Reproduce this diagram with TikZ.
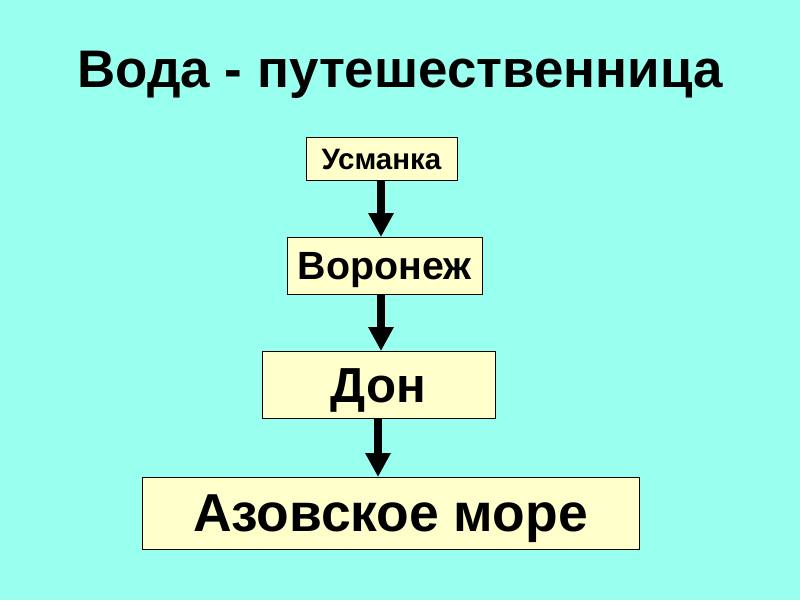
\documentclass[tikz,border=0pt]{standalone}
\usepackage{fontspec}
\setmainfont{Liberation Sans}
\usetikzlibrary{arrows.meta}
\definecolor{sea}{HTML}{99FFEE}
\definecolor{pale}{HTML}{FFFFCC}

\begin{document}
\begin{tikzpicture}[x=0.025cm,y=-0.025cm,
   river/.style={draw,fill=pale,inner sep=0pt,text depth=0pt},
   flow/.style={line width=0.2cm,-{Triangle[length=0.6cm,width=0.6cm]}}]
   \fill[sea] (0,0) rectangle (800,600);
   \useasboundingbox (0,0) rectangle (800,600);

   \node[font=\fontsize{37.6}{42}\selectfont\bfseries] (title) at (400,75) {Вода - путешественница};

   \node[river,minimum width=151*0.025cm,minimum height=43*0.025cm,text height=15pt,
     font=\fontsize{21}{24}\selectfont\bfseries] (usm) at (381.5,158.5) {Усманка};
   \node[river,minimum width=195*0.025cm,minimum height=57*0.025cm,text height=20pt,
     font=\fontsize{28}{30}\selectfont\bfseries] (vor) at (384.5,265.5) {Воронеж};
   \node[river,minimum width=233*0.025cm,minimum height=67*0.025cm,text height=25pt,
     font=\fontsize{35}{38}\selectfont\bfseries] (don) at (378.5,384.5) {Дон};
   \node[river,minimum width=497*0.025cm,minimum height=72*0.025cm,text height=27pt,
     font=\fontsize{38}{42}\selectfont\bfseries] (azov) at (390.5,513) {Азовское море};

   \draw[flow] (usm.south -| 381,0) -- (381,237);
   \draw[flow] (vor.south -| 381,0) -- (381,351);
   \draw[flow] (don.south -| 378,0) -- (378,477);
\end{tikzpicture}
\end{document}
